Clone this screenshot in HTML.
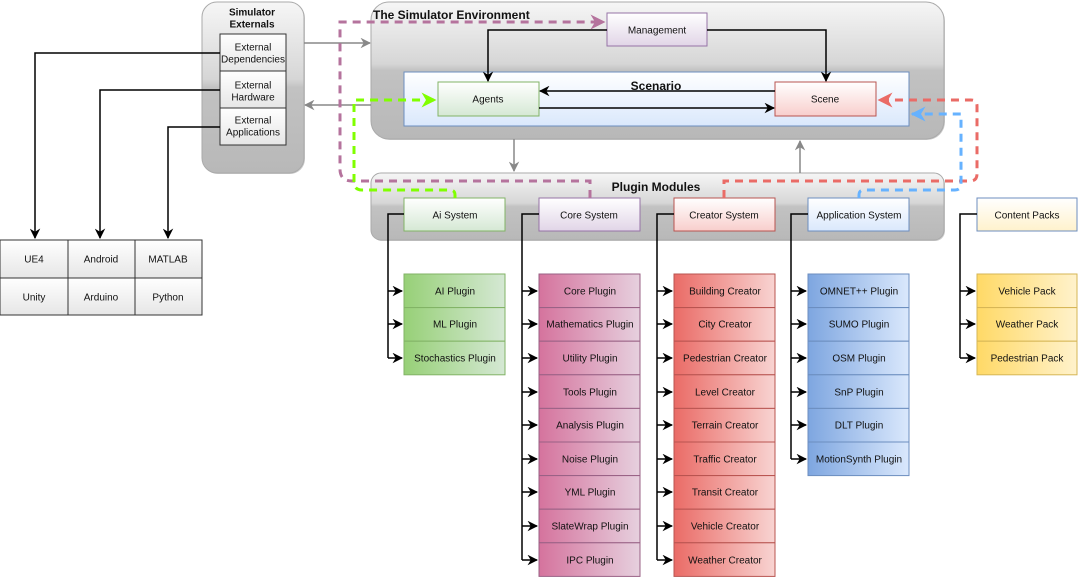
<!DOCTYPE html>
<html><head><meta charset="utf-8"><style>
html,body{margin:0;padding:0;background:#fff;}
svg{display:block;font-family:"Liberation Sans",sans-serif;}
text{font-size:10px;fill:#111;text-anchor:middle;dominant-baseline:central;transform:translateY(1px);}
.b{font-weight:bold;}
</style></head><body>
<svg width="1080" height="579" viewBox="0 0 1080 579" xmlns="http://www.w3.org/2000/svg">
<defs>
<linearGradient id="cg" x1="0" y1="0" x2="0" y2="1">
<stop offset="0" stop-color="#f6f6f6"/><stop offset="0.45" stop-color="#d6d6d6"/><stop offset="0.5" stop-color="#c2c2c2"/><stop offset="1" stop-color="#b8b8b8"/></linearGradient>
<linearGradient id="gA" x1="0" x2="1"><stop offset="0" stop-color="#97d077"/><stop offset="1" stop-color="#d5e8d4"/></linearGradient>
<linearGradient id="gC" x1="0" x2="1"><stop offset="0" stop-color="#d5739d"/><stop offset="1" stop-color="#e6d0de"/></linearGradient>
<linearGradient id="gR" x1="0" x2="1"><stop offset="0" stop-color="#ea6b66"/><stop offset="1" stop-color="#f8d4d2"/></linearGradient>
<linearGradient id="gB" x1="0" x2="1"><stop offset="0" stop-color="#7ea6e0"/><stop offset="1" stop-color="#dae8fc"/></linearGradient>
<linearGradient id="gY" x1="0" x2="1"><stop offset="0" stop-color="#ffd966"/><stop offset="1" stop-color="#fff2cc"/></linearGradient>
<linearGradient id="sA" x1="0" y1="0" x2="0" y2="1"><stop offset="0" stop-color="#fff"/><stop offset="1" stop-color="#d5e8d4"/></linearGradient>
<linearGradient id="sC" x1="0" y1="0" x2="0" y2="1"><stop offset="0" stop-color="#fff"/><stop offset="1" stop-color="#e1d5e7"/></linearGradient>
<linearGradient id="sR" x1="0" y1="0" x2="0" y2="1"><stop offset="0" stop-color="#fff"/><stop offset="1" stop-color="#f8cecc"/></linearGradient>
<linearGradient id="sB" x1="0" y1="0" x2="0" y2="1"><stop offset="0" stop-color="#fff"/><stop offset="1" stop-color="#dae8fc"/></linearGradient>
<linearGradient id="sY" x1="0" y1="0" x2="0" y2="1"><stop offset="0" stop-color="#fff"/><stop offset="1" stop-color="#fff2cc"/></linearGradient>
<linearGradient id="sW" x1="0" y1="0" x2="0" y2="1"><stop offset="0" stop-color="#fff"/><stop offset="1" stop-color="#e6e6e6"/></linearGradient>
<marker id="ak" viewBox="0 0 10 10" refX="9" refY="5" markerWidth="7" markerHeight="7" orient="auto"><path d="M0,0 L10,5 L0,10 L3,5z" fill="#000"/></marker>
<marker id="ag" viewBox="0 0 10 10" refX="9" refY="5" markerWidth="7" markerHeight="7" orient="auto"><path d="M0,0 L10,5 L0,10 L3,5z" fill="#888"/></marker>
<marker id="ap" viewBox="0 0 10 10" refX="9" refY="5" markerWidth="5" markerHeight="5" orient="auto"><path d="M0,0 L10,5 L0,10 L3,5z" fill="#b5739d"/></marker>
<marker id="aG" viewBox="0 0 10 10" refX="9" refY="5" markerWidth="5" markerHeight="5" orient="auto"><path d="M0,0 L10,5 L0,10 L3,5z" fill="#80ff00"/></marker>
<marker id="aR" viewBox="0 0 10 10" refX="9" refY="5" markerWidth="5" markerHeight="5" orient="auto"><path d="M0,0 L10,5 L0,10 L3,5z" fill="#ea6b66"/></marker>
<marker id="aB" viewBox="0 0 10 10" refX="9" refY="5" markerWidth="5" markerHeight="5" orient="auto"><path d="M0,0 L10,5 L0,10 L3,5z" fill="#66b2ff"/></marker>
</defs>

<rect x="203" y="3" width="102" height="171" rx="15" fill="#999" opacity="0.5"/>
<rect x="202" y="2" width="102" height="171" rx="15" fill="url(#cg)" stroke="#aaa"/>
<text x="252" y="12" class="b">Simulator</text>
<text x="252" y="24" class="b">Externals</text>
<rect x="372" y="3" width="573" height="137" rx="18" fill="#999" opacity="0.5"/>
<rect x="371" y="2" width="573" height="137" rx="18" fill="url(#cg)" stroke="#aaa"/>
<text x="373" y="14" class="b" style="font-size:12px;text-anchor:start">The Simulator Environment</text>
<rect x="372" y="174" width="573" height="67" rx="10" fill="#999" opacity="0.5"/>
<rect x="371" y="173" width="573" height="67" rx="10" fill="url(#cg)" stroke="#aaa"/>
<text x="656" y="186" class="b" style="font-size:12px">Plugin Modules</text>

<g stroke="#333" fill="url(#sW)">
<rect x="220" y="34" width="66" height="37"/><rect x="220" y="71" width="66" height="37"/><rect x="220" y="108" width="66" height="37"/>
</g>
<text x="253" y="47">External</text><text x="253" y="59">Dependencies</text>
<text x="253" y="85">External</text><text x="253" y="97">Hardware</text>
<text x="253" y="120">External</text><text x="253" y="132">Applications</text>

<rect x="404" y="72" width="505" height="54" fill="url(#sB)" stroke="#6c8ebf"/>
<text x="656" y="85" class="b" style="font-size:12px">Scenario</text>
<rect x="607" y="13" width="100" height="33" fill="url(#sC)" stroke="#9673a6"/><text x="657" y="30">Management</text>
<rect x="438" y="82" width="101" height="34" fill="url(#sA)" stroke="#82b366"/><text x="488" y="99">Agents</text>
<rect x="775" y="82" width="101" height="34" fill="url(#sR)" stroke="#b85450"/><text x="825" y="99">Scene</text>
<g stroke="#000" stroke-width="1.5" fill="none">
<path d="M607 30 H488 V81" marker-end="url(#ak)"/>
<path d="M707 30 H826 V81" marker-end="url(#ak)"/>
<path d="M775 91 H540" marker-end="url(#ak)"/>
<path d="M539 108 H774" marker-end="url(#ak)"/>
</g>
<g stroke="#888" stroke-width="1.5" fill="none">
<path d="M304 43 H370" marker-end="url(#ag)"/>
<path d="M371 105 H305" marker-end="url(#ag)"/>
<path d="M514 139 V171" marker-end="url(#ag)"/>
<path d="M800 173 V141" marker-end="url(#ag)"/>
</g>

<rect x="404" y="198" width="101" height="33" fill="url(#sA)" stroke="#82b366"/><text x="455" y="215">Ai System</text>
<rect x="539" y="198" width="101" height="33" fill="url(#sC)" stroke="#9673a6"/><text x="589" y="215">Core System</text>
<rect x="674" y="198" width="101" height="33" fill="url(#sR)" stroke="#b85450"/><text x="724" y="215">Creator System</text>
<rect x="808" y="198" width="101" height="33" fill="url(#sB)" stroke="#6c8ebf"/><text x="859" y="215">Application System</text>
<rect x="977" y="198" width="100" height="33" fill="url(#sY)" stroke="#6c8ebf"/><text x="1027" y="215">Content Packs</text>

<g fill="none" stroke-width="3" stroke-dasharray="8,6">
<path d="M590 198 V181 H352 Q340 181 340 169 V22 H604" stroke="#b5739d" marker-end="url(#ap)"/>
<path d="M455 198 V195 Q455 190 450 190 H362 Q354 190 354 182 V100 H435" stroke="#80ff00" marker-end="url(#aG)"/>
<path d="M724 198 V181 H970 Q977 181 977 174 V106 Q977 100 971 100 H879" stroke="#ea6b66" marker-end="url(#aR)"/>
<path d="M859 198 V195 Q859 190 864 190 H955 Q961 190 961 184 V114 H912" stroke="#66b2ff" marker-end="url(#aB)"/>
</g>

<g stroke="#333" fill="url(#sW)">
<rect x="0" y="240" width="68" height="38"/><rect x="68" y="240" width="67" height="38"/><rect x="135" y="240" width="67" height="38"/>
<rect x="0" y="278" width="68" height="37"/><rect x="68" y="278" width="67" height="37"/><rect x="135" y="278" width="67" height="37"/>
</g>
<text x="34" y="259">UE4</text><text x="101" y="259">Android</text><text x="168" y="259">MATLAB</text>
<text x="34" y="297">Unity</text><text x="101" y="297">Arduino</text><text x="168" y="297">Python</text>
<g stroke="#000" stroke-width="1.5" fill="none">
<path d="M220 53 H35 V238" marker-end="url(#ak)"/>
<path d="M220 90 H100 V238" marker-end="url(#ak)"/>
<path d="M220 127 H168 V238" marker-end="url(#ak)"/>
</g>

<g stroke="#82b366" fill="url(#gA)">
<rect x="404" y="274" width="101" height="33.6"/><rect x="404" y="307.6" width="101" height="33.6"/><rect x="404" y="341.2" width="101" height="33.6"/>
</g>
<text x="455" y="291">AI Plugin</text><text x="455" y="324">ML Plugin</text><text x="455" y="358">Stochastics Plugin</text>

<g stroke="#996185" fill="url(#gC)">
<rect x="539" y="274" width="101" height="33.6"/><rect x="539" y="307.6" width="101" height="33.6"/><rect x="539" y="341.2" width="101" height="33.6"/>
<rect x="539" y="374.8" width="101" height="33.6"/><rect x="539" y="408.4" width="101" height="33.6"/><rect x="539" y="442" width="101" height="33.6"/>
<rect x="539" y="475.6" width="101" height="33.6"/><rect x="539" y="509.2" width="101" height="33.6"/><rect x="539" y="542.8" width="101" height="33.6"/>
</g>
<text x="590" y="291">Core Plugin</text><text x="590" y="324">Mathematics Plugin</text><text x="590" y="358">Utility Plugin</text>
<text x="590" y="392">Tools Plugin</text><text x="590" y="425">Analysis Plugin</text><text x="590" y="459">Noise Plugin</text>
<text x="590" y="492">YML Plugin</text><text x="590" y="526">SlateWrap Plugin</text><text x="590" y="560">IPC Plugin</text>

<g stroke="#b85450" fill="url(#gR)">
<rect x="674" y="274" width="101" height="33.6"/><rect x="674" y="307.6" width="101" height="33.6"/><rect x="674" y="341.2" width="101" height="33.6"/>
<rect x="674" y="374.8" width="101" height="33.6"/><rect x="674" y="408.4" width="101" height="33.6"/><rect x="674" y="442" width="101" height="33.6"/>
<rect x="674" y="475.6" width="101" height="33.6"/><rect x="674" y="509.2" width="101" height="33.6"/><rect x="674" y="542.8" width="101" height="33.6"/>
</g>
<text x="725" y="291">Building Creator</text><text x="725" y="324">City Creator</text><text x="725" y="358">Pedestrian Creator</text>
<text x="725" y="392">Level Creator</text><text x="725" y="425">Terrain Creator</text><text x="725" y="459">Traffic Creator</text>
<text x="725" y="492">Transit Creator</text><text x="725" y="526">Vehicle Creator</text><text x="725" y="560">Weather Creator</text>

<g stroke="#6c8ebf" fill="url(#gB)">
<rect x="808" y="274" width="101" height="33.6"/><rect x="808" y="307.6" width="101" height="33.6"/><rect x="808" y="341.2" width="101" height="33.6"/>
<rect x="808" y="374.8" width="101" height="33.6"/><rect x="808" y="408.4" width="101" height="33.6"/><rect x="808" y="442" width="101" height="33.6"/>
</g>
<text x="859" y="291">OMNET++ Plugin</text><text x="859" y="324">SUMO Plugin</text><text x="859" y="358">OSM Plugin</text>
<text x="859" y="392">SnP Plugin</text><text x="859" y="425">DLT Plugin</text><text x="859" y="459">MotionSynth Plugin</text>

<g stroke="#d6b656" fill="url(#gY)">
<rect x="977" y="274" width="100" height="33.6"/><rect x="977" y="307.6" width="100" height="33.6"/><rect x="977" y="341.2" width="100" height="33.6"/>
</g>
<text x="1027" y="291">Vehicle Pack</text><text x="1027" y="324">Weather Pack</text><text x="1027" y="358">Pedestrian Pack</text>

<g stroke="#000" stroke-width="1.5" fill="none">
<path d="M404 214 H388 V358"/>
<path d="M388 291 H402" marker-end="url(#ak)"/><path d="M388 324 H402" marker-end="url(#ak)"/><path d="M388 358 H402" marker-end="url(#ak)"/>
<path d="M539 214 H522 V560"/>
<path d="M522 291 H537" marker-end="url(#ak)"/><path d="M522 324 H537" marker-end="url(#ak)"/><path d="M522 358 H537" marker-end="url(#ak)"/>
<path d="M522 392 H537" marker-end="url(#ak)"/><path d="M522 425 H537" marker-end="url(#ak)"/><path d="M522 459 H537" marker-end="url(#ak)"/>
<path d="M522 492 H537" marker-end="url(#ak)"/><path d="M522 526 H537" marker-end="url(#ak)"/><path d="M522 560 H537" marker-end="url(#ak)"/>
<path d="M674 214 H657 V560"/>
<path d="M657 291 H672" marker-end="url(#ak)"/><path d="M657 324 H672" marker-end="url(#ak)"/><path d="M657 358 H672" marker-end="url(#ak)"/>
<path d="M657 392 H672" marker-end="url(#ak)"/><path d="M657 425 H672" marker-end="url(#ak)"/><path d="M657 459 H672" marker-end="url(#ak)"/>
<path d="M657 492 H672" marker-end="url(#ak)"/><path d="M657 526 H672" marker-end="url(#ak)"/><path d="M657 560 H672" marker-end="url(#ak)"/>
<path d="M808 214 H791 V459"/>
<path d="M791 291 H806" marker-end="url(#ak)"/><path d="M791 324 H806" marker-end="url(#ak)"/><path d="M791 358 H806" marker-end="url(#ak)"/>
<path d="M791 392 H806" marker-end="url(#ak)"/><path d="M791 425 H806" marker-end="url(#ak)"/><path d="M791 459 H806" marker-end="url(#ak)"/>
<path d="M977 214 H960 V358"/>
<path d="M960 291 H975" marker-end="url(#ak)"/><path d="M960 324 H975" marker-end="url(#ak)"/><path d="M960 358 H975" marker-end="url(#ak)"/>
</g>
</svg>
</body></html>
